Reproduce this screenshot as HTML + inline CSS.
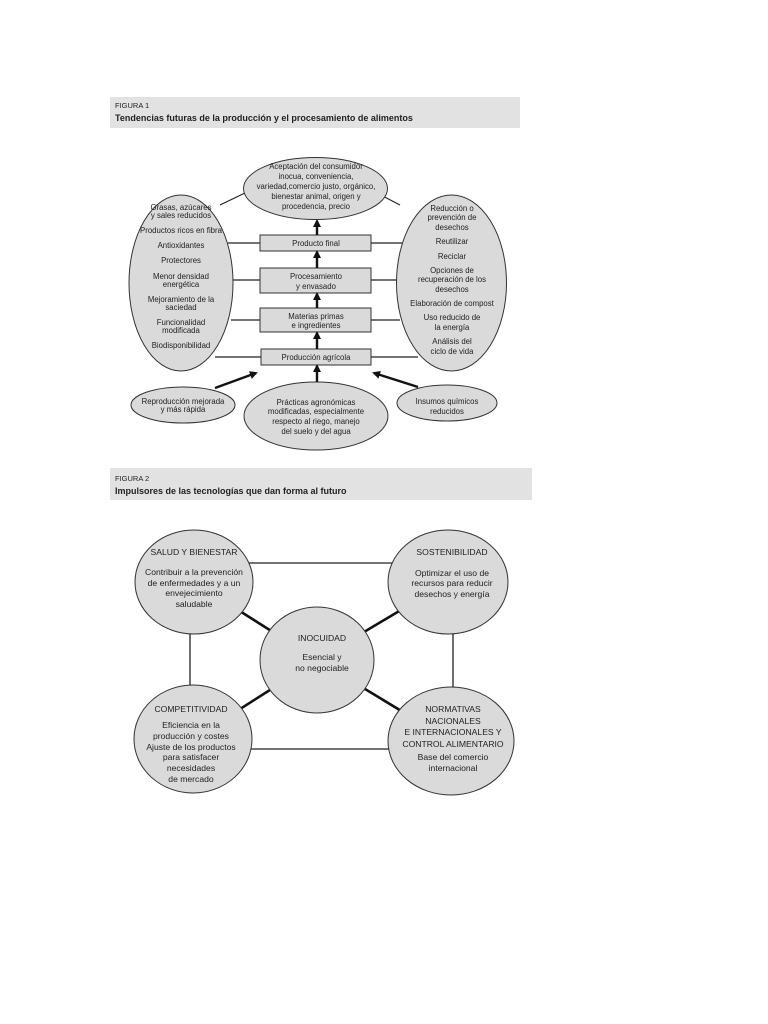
<!DOCTYPE html>
<html><head><meta charset="utf-8"><style>
html,body{margin:0;padding:0;background:#fff;}
svg{display:block;}
text{font-family:"Liberation Sans",sans-serif;fill:#222;}
</style></head><body>
<svg width="768" height="1024" viewBox="0 0 768 1024" xmlns="http://www.w3.org/2000/svg">
<defs>
<marker id="ah" markerWidth="8" markerHeight="8" refX="6" refY="4" orient="auto" markerUnits="userSpaceOnUse"><path d="M0,0 L8,4 L0,8 z" fill="#111"/></marker>
</defs>
<rect x="110" y="97" width="410" height="31" fill="#e2e2e2"/>
<text x="115" y="108" font-size="7.5" fill="#555">FIGURA 1</text>
<text x="115" y="121" font-size="9" font-weight="bold">Tendencias futuras de la producción y el procesamiento de alimentos</text>

<g stroke="#222" stroke-width="1.2" fill="none">
<line x1="220" y1="205" x2="247" y2="192"/>
<line x1="375" y1="192" x2="400" y2="205"/>
<line x1="228" y1="243" x2="402" y2="243"/>
<line x1="231" y1="280" x2="400" y2="280"/>
<line x1="231" y1="320" x2="400" y2="320"/>
<line x1="215" y1="357" x2="418" y2="357"/>
</g>
<g fill="#dadada" stroke="#333" stroke-width="1">
<ellipse cx="315.5" cy="188.5" rx="72" ry="31"/>
<ellipse cx="181" cy="283" rx="52" ry="88"/>
<ellipse cx="451.5" cy="283" rx="55" ry="88"/>
<rect x="260" y="235" width="111" height="16"/>
<rect x="260" y="268" width="111" height="25"/>
<rect x="260" y="308" width="111" height="24"/>
<rect x="261" y="349" width="110" height="16"/>
<ellipse cx="183" cy="405" rx="52" ry="18"/>
<ellipse cx="316" cy="416" rx="72" ry="34"/>
<ellipse cx="447" cy="403" rx="50" ry="18"/>
</g>
<g stroke="#111" stroke-width="2.4" marker-end="url(#ah)">
<line x1="317" y1="235" x2="317" y2="221"/>
<line x1="317" y1="268" x2="317" y2="252"/>
<line x1="317" y1="308" x2="317" y2="294"/>
<line x1="317" y1="349" x2="317" y2="333"/>
<line x1="317" y1="382" x2="317" y2="366"/>
<line x1="215" y1="388" x2="256" y2="373"/>
<line x1="418" y1="387" x2="374" y2="373"/>
</g>
<g font-size="7.8" text-anchor="middle">
<text x="316" y="169">Aceptación del consumidor</text>
<text x="316" y="179">inocua, conveniencia,</text>
<text x="316" y="189">variedad,comercio justo, orgánico,</text>
<text x="316" y="199">bienestar animal, origen y</text>
<text x="316" y="209">procedencia, precio</text>
<text x="181" y="210">Grasas, azúcares</text>
<text x="181" y="218">y sales reducidos</text>
<text x="181" y="233">Productos ricos en fibra</text>
<text x="181" y="248">Antioxidantes</text>
<text x="181" y="263">Protectores</text>
<text x="181" y="279">Menor densidad</text>
<text x="181" y="287">energética</text>
<text x="181" y="302">Mejoramiento de la</text>
<text x="181" y="310">saciedad</text>
<text x="181" y="325">Funcionalidad</text>
<text x="181" y="333">modificada</text>
<text x="181" y="348">Biodisponibilidad</text>
<text x="452" y="211">Reducción o</text>
<text x="452" y="220">prevención de</text>
<text x="452" y="230">desechos</text>
<text x="452" y="244">Reutilizar</text>
<text x="452" y="259">Reciclar</text>
<text x="452" y="273">Opciones de</text>
<text x="452" y="282">recuperación de los</text>
<text x="452" y="292">desechos</text>
<text x="452" y="306">Elaboración de compost</text>
<text x="452" y="320">Uso reducido de</text>
<text x="452" y="330">la energía</text>
<text x="452" y="344">Análisis del</text>
<text x="452" y="354">ciclo de vida</text>
<text x="316" y="246">Producto final</text>
<text x="316" y="279">Procesamiento</text>
<text x="316" y="289">y envasado</text>
<text x="316" y="319">Materias primas</text>
<text x="316" y="328">e ingredientes</text>
<text x="316" y="360">Producción agrícola</text>
<text x="183" y="404">Reproducción mejorada</text>
<text x="183" y="412">y más rápida</text>
<text x="316" y="405">Prácticas agronómicas</text>
<text x="316" y="414">modificadas, especialmente</text>
<text x="316" y="424">respecto al riego, manejo</text>
<text x="316" y="434">del suelo y del agua</text>
<text x="447" y="404">Insumos químicos</text>
<text x="447" y="414">reducidos</text>
</g>

<rect x="110" y="468" width="422" height="32" fill="#e2e2e2"/>
<text x="115" y="481" font-size="7.5" fill="#555">FIGURA 2</text>
<text x="115" y="494" font-size="9" font-weight="bold">Impulsores de las tecnologías que dan forma al futuro</text>
<g stroke="#222" stroke-width="1.3">
<line x1="194" y1="563" x2="448" y2="563"/>
<line x1="193" y1="749" x2="451" y2="749"/>
<line x1="190" y1="600" x2="190" y2="720"/>
<line x1="453" y1="600" x2="453" y2="720"/>
</g>
<g stroke="#111" stroke-width="2.6">
<line x1="194" y1="582" x2="317" y2="660"/>
<line x1="448" y1="582" x2="317" y2="660"/>
<line x1="193" y1="739" x2="317" y2="660"/>
<line x1="451" y1="741" x2="317" y2="660"/>
</g>
<g fill="#dadada" stroke="#333" stroke-width="1">
<ellipse cx="194" cy="582" rx="59" ry="52"/>
<ellipse cx="448" cy="582" rx="60" ry="52"/>
<ellipse cx="317" cy="660" rx="57" ry="53"/>
<ellipse cx="193" cy="739" rx="59" ry="54"/>
<ellipse cx="451" cy="741" rx="63" ry="54"/>
</g>
<g font-size="8.6" text-anchor="middle">
<text x="194" y="555">SALUD Y BIENESTAR</text>
<text x="194" y="575">Contribuir a la prevención</text>
<text x="194" y="586">de enfermedades y a un</text>
<text x="194" y="596">envejecimiento</text>
<text x="194" y="607">saludable</text>
<text x="452" y="555">SOSTENIBILIDAD</text>
<text x="452" y="576">Optimizar el uso de</text>
<text x="452" y="586">recursos para reducir</text>
<text x="452" y="597">desechos y energía</text>
<text x="322" y="641">INOCUIDAD</text>
<text x="322" y="660">Esencial y</text>
<text x="322" y="671">no negociable</text>
<text x="191" y="712">COMPETITIVIDAD</text>
<text x="191" y="728">Eficiencia en la</text>
<text x="191" y="739">producción y costes</text>
<text x="191" y="750">Ajuste de los productos</text>
<text x="191" y="760">para satisfacer</text>
<text x="191" y="771">necesidades</text>
<text x="191" y="782">de mercado</text>
<text x="453" y="712">NORMATIVAS</text>
<text x="453" y="724">NACIONALES</text>
<text x="453" y="735">E INTERNACIONALES Y</text>
<text x="453" y="747">CONTROL ALIMENTARIO</text>
<text x="453" y="760">Base del comercio</text>
<text x="453" y="771">internacional</text>
</g>
</svg>
</body></html>
